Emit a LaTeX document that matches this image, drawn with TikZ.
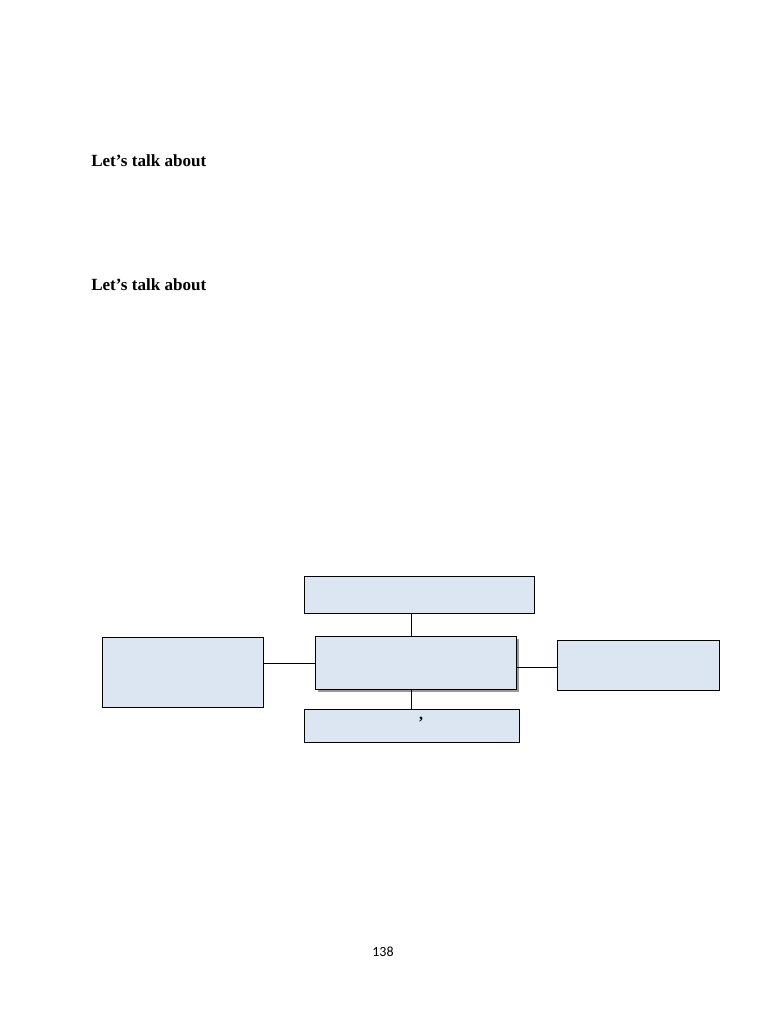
\documentclass[tikz,border=0pt]{standalone}
\usepackage{fontspec}
\setmainfont{Liberation Serif}
\newfontfamily\pagefont{Carlito}
\usetikzlibrary{shadows}
\definecolor{boxfill}{HTML}{DCE6F2}
\tikzset{
  cbox/.style={draw=black, line width=0.7pt, fill=boxfill, inner sep=0pt},
  conn/.style={draw=black, line width=0.7pt},
  heading/.style={anchor=base west, inner sep=0pt, font=\fontsize{12.8}{15}\selectfont\bfseries},
}
\begin{document}
\begin{tikzpicture}[x=0.75pt, y=-0.75pt]
\useasboundingbox (0,0) rectangle (768,1024);
\node[heading] (h1) at (91,166) {Let’s talk about};
\node[heading] (h2) at (91,290) {Let’s talk about};
% boxes
\path[cbox] (304,576) rectangle (534,613);
\node[inner sep=0pt, minimum width=230*0.75pt, minimum height=37*0.75pt] (top) at (419,594.5) {};
\fill[gray!80] (318,639) rectangle (519,692);
\path[cbox] (315,636) rectangle (516,689);
\node[inner sep=0pt, minimum width=201*0.75pt, minimum height=53*0.75pt] (center) at (415.5,662.5) {};
\path[cbox] (304,709) rectangle (519,742);
\node[inner sep=0pt, minimum width=215*0.75pt, minimum height=33*0.75pt] (bottom) at (411.5,725.5) {};
\node[inner sep=0pt, font=\bfseries\fontsize{12}{14}\selectfont] (comma) at (421,720) {,};
\path[cbox] (102,637) rectangle (263,707);
\node[inner sep=0pt, minimum width=161*0.75pt, minimum height=70*0.75pt] (left) at (182.5,672) {};
\path[cbox] (557,640) rectangle (719,690);
\node[inner sep=0pt, minimum width=162*0.75pt, minimum height=50*0.75pt] (right) at (638,665) {};
% connectors
\coordinate (ct) at (411,613);
\coordinate (cc1) at (411,636);
\draw[conn] (top.south -| ct) -- (center.north -| cc1);
\coordinate (cb) at (411,689);
\draw[conn] (center.south -| cb) -- (bottom.north -| cb);
\coordinate (cl) at (263,663);
\draw[conn] (left.east |- cl) -- (center.west |- cl);
\coordinate (cr) at (516,667);
\draw[conn] (center.east |- cr) -- (right.west |- cr);
\node[inner sep=0pt, font=\pagefont\fontsize{10.5}{12}\selectfont] (pg) at (383,952) {138};
\end{tikzpicture}
\end{document}
